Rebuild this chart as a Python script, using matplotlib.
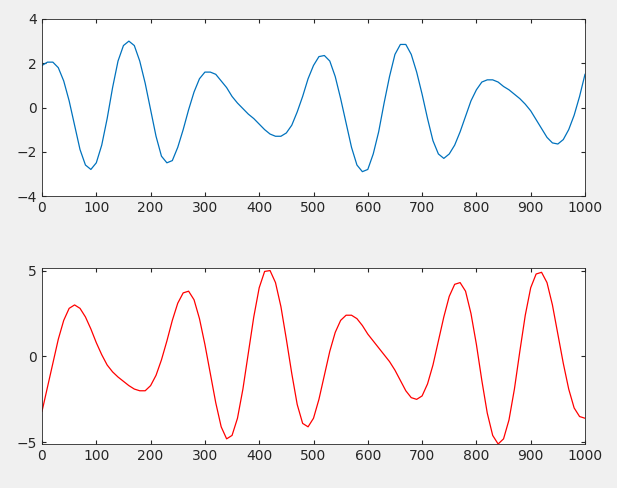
import matplotlib
matplotlib.use("Agg")
import matplotlib.pyplot as plt

x = list(range(0, 1001, 10))
top = [1.9,2.05,2.05,1.8,1.2,0.3,-0.8,-1.9,-2.6,-2.8,
       -2.5,-1.7,-0.5,0.9,2.1,2.8,3.0,2.8,2.1,1.1,
       -0.1,-1.3,-2.2,-2.5,-2.4,-1.8,-1.0,-0.1,0.7,1.3,
       1.6,1.6,1.5,1.2,0.9,0.5,0.2,-0.05,-0.3,-0.5,
       -0.75,-1.0,-1.2,-1.3,-1.3,-1.15,-0.8,-0.2,0.5,1.3,
       1.9,2.3,2.35,2.1,1.4,0.4,-0.7,-1.8,-2.6,-2.9,
       -2.8,-2.1,-1.1,0.2,1.4,2.4,2.85,2.85,2.4,1.6,
       0.6,-0.5,-1.5,-2.1,-2.3,-2.1,-1.7,-1.1,-0.4,0.3,
       0.8,1.15,1.25,1.25,1.15,0.95,0.8,0.6,0.4,0.15,
       -0.15,-0.55,-0.95,-1.35,-1.6,-1.65,-1.45,-1.0,-0.35,0.5,
       1.5]
bottom = [-3.2,-1.8,-0.4,1.0,2.1,2.8,3.0,2.8,2.3,1.6,
          0.8,0.1,-0.5,-0.9,-1.2,-1.45,-1.7,-1.9,-2.0,-2.0,
          -1.7,-1.1,-0.2,0.9,2.1,3.1,3.7,3.8,3.3,2.2,
          0.7,-1.0,-2.7,-4.1,-4.8,-4.6,-3.6,-1.9,0.2,2.3,
          4.0,4.95,5.0,4.3,2.9,1.0,-1.0,-2.8,-3.9,-4.1,
          -3.6,-2.5,-1.1,0.3,1.4,2.1,2.4,2.4,2.2,1.8,
          1.3,0.9,0.5,0.1,-0.3,-0.8,-1.4,-2.0,-2.4,-2.5,
          -2.3,-1.6,-0.5,0.9,2.3,3.5,4.2,4.3,3.8,2.5,
          0.7,-1.4,-3.3,-4.6,-5.1,-4.8,-3.7,-1.9,0.3,2.4,
          4.0,4.8,4.9,4.3,3.0,1.3,-0.4,-1.9,-3.0,-3.5,
          -3.6]
xticks = list(range(0, 1001, 100))

W, H = 617, 488
fig = plt.figure(figsize=(W/100, H/100), dpi=100, facecolor="#F0F0F0")
ax1 = fig.add_axes([42/W, 1-196/H, 543/W, 177/H])
ax2 = fig.add_axes([42/W, 1-444/H, 543/W, 176/H])

ax1.plot(x, top, color="#0072BD", lw=0.9)
ax1.set_xlim(0, 1000); ax1.set_ylim(-4, 4)
ax1.set_yticks([-4, -2, 0, 2, 4])
ax2.plot(x, bottom, color="red", lw=0.9)
ax2.set_xlim(0, 1000); ax2.set_ylim(-5.1, 5.15)
ax2.set_yticks([-5, 0, 5])
for ax in (ax1, ax2):
    ax.set_xticks(xticks)
    ax.tick_params(direction="in", labelsize=10, length=3, colors="#262626")
    ax.tick_params(top=True, right=True)
    for s in ax.spines.values():
        s.set_color("#262626"); s.set_linewidth(0.6)
fig.savefig("out.png", dpi=100, facecolor=fig.get_facecolor())
